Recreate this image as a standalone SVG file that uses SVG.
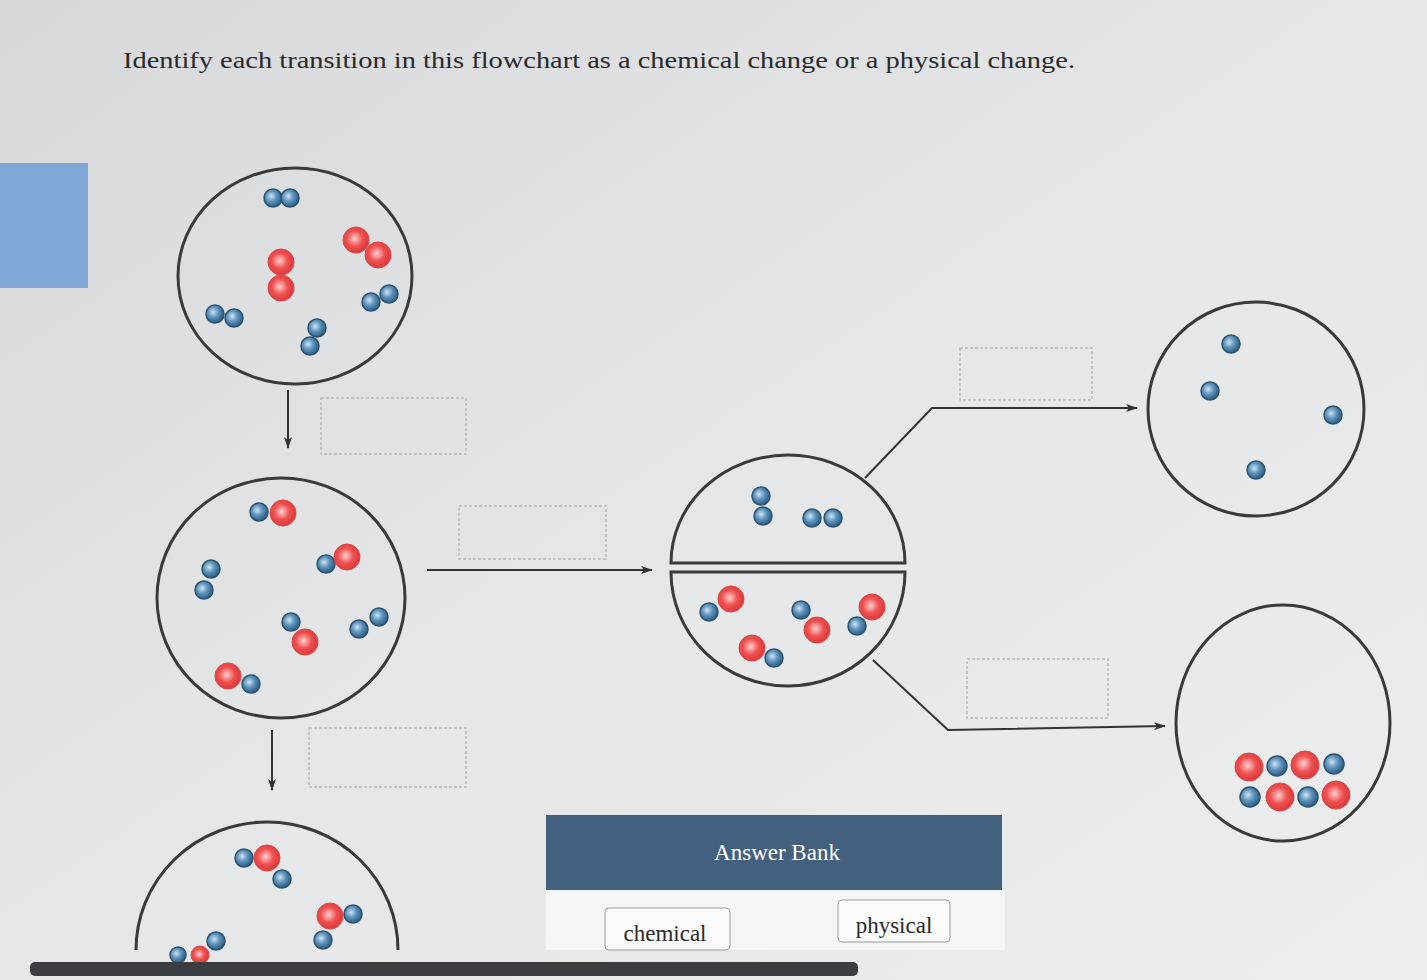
<svg xmlns="http://www.w3.org/2000/svg" width="1427" height="980" viewBox="0 0 1427 980">
<defs>
<radialGradient id="gb" cx="0.4" cy="0.4" r="0.6"><stop offset="0" stop-color="#cfe3f0"/><stop offset="0.5" stop-color="#5b93bd"/><stop offset="1" stop-color="#2f5f85"/></radialGradient>
<radialGradient id="gr" cx="0.45" cy="0.45" r="0.6"><stop offset="0" stop-color="#ffd0d0"/><stop offset="0.5" stop-color="#f05050"/><stop offset="1" stop-color="#d83535"/></radialGradient>
<marker id="ah" markerWidth="12" markerHeight="8" refX="11" refY="4" orient="auto" markerUnits="userSpaceOnUse"><path d="M0,0 L12,4 L0,8 L3,4 z" fill="#333"/></marker>
<linearGradient id="bg" x1="0" y1="0" x2="1" y2="1"><stop offset="0" stop-color="#d6d8da"/><stop offset="0.5" stop-color="#e4e6e7"/><stop offset="1" stop-color="#eceeee"/></linearGradient>
</defs>
<style>
.c{fill:none;stroke:#3a3a3a;stroke-width:3}
.b{fill:url(#gb);stroke:#2c5370;stroke-width:1.5}
.r{fill:url(#gr);stroke:#e04545;stroke-width:1}
.d{fill:none;stroke:#b8bcbf;stroke-width:1.5;stroke-dasharray:3 2}
.l{fill:none;stroke:#333;stroke-width:2}
.t{font-family:"Liberation Serif",serif;fill:#2a2a2a}
</style>
<rect width="1427" height="980" fill="url(#bg)"/>
<rect x="0" y="163" width="88" height="125" fill="#7fa6d4"/>
<text class="t" x="123" y="68" font-size="24" textLength="952" lengthAdjust="spacingAndGlyphs">Identify each transition in this flowchart as a chemical change or a physical change.</text>
<g id="connectors">
<line class="l" x1="288" y1="390" x2="288" y2="448" marker-end="url(#ah)"/>
<line class="l" x1="272" y1="730" x2="272" y2="790" marker-end="url(#ah)"/>
<line class="l" x1="427" y1="570" x2="652" y2="570" marker-end="url(#ah)"/>
<polyline class="l" points="865,478 932,408 1137,408" marker-end="url(#ah)"/>
<polyline class="l" points="873,660 948,730 1165,726" marker-end="url(#ah)"/>
</g>
<g id="boxes">
<rect class="d" x="321" y="398" width="145" height="56"/>
<rect class="d" x="459" y="506" width="147" height="53"/>
<rect class="d" x="960" y="348" width="132" height="52"/>
<rect class="d" x="967" y="659" width="141" height="59"/>
<rect class="d" x="309" y="728" width="157" height="59"/>
</g>
<g id="c1">
<ellipse class="c" cx="295" cy="276" rx="117" ry="108"/>
<circle class="b" cx="273" cy="198" r="9"/><circle class="b" cx="290" cy="198" r="9"/>
<circle class="r" cx="281" cy="262" r="13"/><circle class="r" cx="281" cy="288" r="13"/>
<circle class="r" cx="356" cy="240" r="13"/><circle class="r" cx="378" cy="255" r="13"/>
<circle class="b" cx="215" cy="314" r="9"/><circle class="b" cx="234" cy="318" r="9"/>
<circle class="b" cx="371" cy="302" r="9"/><circle class="b" cx="389" cy="294" r="9"/>
<circle class="b" cx="317" cy="328" r="9"/><circle class="b" cx="310" cy="346" r="9"/>
</g>
<g id="c2">
<ellipse class="c" cx="281" cy="598" rx="124" ry="120"/>
<circle class="b" cx="259" cy="512" r="9"/><circle class="r" cx="283" cy="513" r="13"/>
<circle class="b" cx="211" cy="569" r="9"/><circle class="b" cx="204" cy="590" r="9"/>
<circle class="b" cx="326" cy="564" r="9"/><circle class="r" cx="347" cy="557" r="13"/>
<circle class="b" cx="359" cy="629" r="9"/><circle class="b" cx="379" cy="617" r="9"/>
<circle class="b" cx="291" cy="622" r="9"/><circle class="r" cx="305" cy="642" r="13"/>
<circle class="r" cx="228" cy="676" r="13"/><circle class="b" cx="251" cy="684" r="9"/>
</g>
<g id="c3">
<path class="c" d="M136,950 A131,128 0 0 1 398,950"/>
<circle class="b" cx="244" cy="858" r="9"/><circle class="r" cx="267" cy="858" r="13"/><circle class="b" cx="282" cy="879" r="9"/>
<circle class="r" cx="330" cy="916" r="13"/><circle class="b" cx="353" cy="914" r="9"/><circle class="b" cx="323" cy="940" r="9"/>
<circle class="b" cx="216" cy="941" r="9"/><circle class="r" cx="200" cy="955" r="9"/><circle class="b" cx="178" cy="955" r="8"/>
</g>
<g id="mid">
<path class="c" d="M671,563 A117,108 0 0 1 905,563 Z"/>
<path class="c" d="M671,572 L905,572 A117,114 0 0 1 671,572 Z"/>
<circle class="b" cx="761" cy="496" r="9"/><circle class="b" cx="763" cy="516" r="9"/>
<circle class="b" cx="812" cy="518" r="9"/><circle class="b" cx="833" cy="518" r="9"/>
<circle class="b" cx="709" cy="612" r="9"/><circle class="r" cx="731" cy="599" r="13"/>
<circle class="b" cx="801" cy="610" r="9"/><circle class="r" cx="817" cy="630" r="13"/>
<circle class="r" cx="872" cy="607" r="13"/><circle class="b" cx="857" cy="626" r="9"/>
<circle class="r" cx="752" cy="648" r="13"/><circle class="b" cx="774" cy="658" r="9"/>
</g>
<g id="rt">
<ellipse class="c" cx="1256" cy="409" rx="108" ry="107"/>
<circle class="b" cx="1231" cy="344" r="9"/><circle class="b" cx="1210" cy="391" r="9"/>
<circle class="b" cx="1333" cy="415" r="9"/><circle class="b" cx="1256" cy="470" r="9"/>
</g>
<g id="rb">
<ellipse class="c" cx="1283" cy="723" rx="107" ry="118"/>
<circle class="r" cx="1249" cy="767" r="14"/><circle class="b" cx="1277" cy="766" r="10"/><circle class="r" cx="1305" cy="765" r="14"/><circle class="b" cx="1334" cy="764" r="10"/>
<circle class="b" cx="1250" cy="797" r="10"/><circle class="r" cx="1280" cy="797" r="14"/><circle class="b" cx="1308" cy="797" r="10"/><circle class="r" cx="1336" cy="795" r="14"/>
</g>
<g id="bank">
<rect x="546" y="890" width="459" height="60" fill="#f4f5f5"/>
<rect x="546" y="815" width="456" height="75" fill="#43607f"/>
<text class="t" x="777" y="860" font-size="23" style="fill:#fff" text-anchor="middle">Answer Bank</text>
<rect x="605" y="908" width="125" height="42" rx="4" fill="#fafafa" stroke="#9a9a9a"/>
<text class="t" x="665" y="941" font-size="23" text-anchor="middle">chemical</text>
<rect x="838" y="900" width="112" height="42" rx="4" fill="#fafafa" stroke="#9a9a9a"/>
<text class="t" x="894" y="933" font-size="23" text-anchor="middle">physical</text>
</g>
<rect x="30" y="962" width="828" height="14" rx="5" fill="#3a3d42"/>
</svg>
